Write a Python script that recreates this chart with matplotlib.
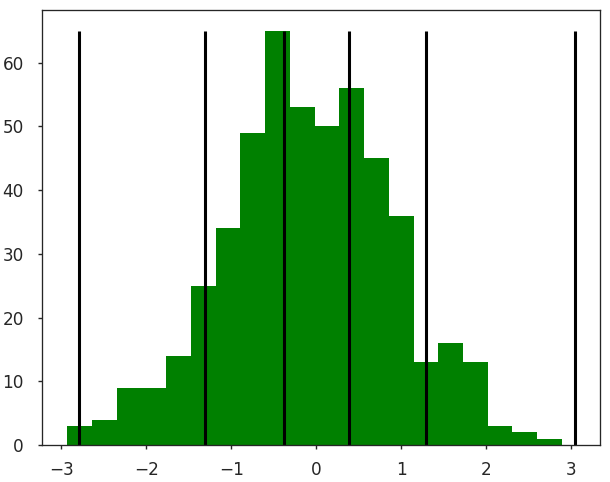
import numpy as np
import matplotlib
matplotlib.use("Agg")
import matplotlib.pyplot as plt

bin_start = -2.93
bin_end = 2.89
counts = [3, 4, 9, 9, 14, 25, 34, 49, 65, 53, 50, 56, 45, 36, 13, 16, 13, 3, 2, 1]
quantile_lines = [-2.79, -1.31, -0.38, 0.39, 1.29, 3.04]

edges = np.linspace(bin_start, bin_end, len(counts) + 1)

fig = plt.figure(figsize=(6.1, 4.82), dpi=100)
ax = fig.add_axes([42/610, 1 - 445/482, (600-42)/610, (445-10)/482])
ax.hist(edges[:-1], bins=edges, weights=counts, color="green")
ax.vlines(quantile_lines, 0, max(counts), colors="black", linewidth=2.2)

for s in ax.spines.values():
    s.set_color("#262626")
    s.set_linewidth(0.95)
ax.tick_params(axis="both", labelsize=12.2, length=2.6, width=1.0, color="#262626",
               labelcolor="#262626")
ax.tick_params(axis="x", pad=9.0)
ax.tick_params(axis="y", pad=10.5)
ax.set_xticks([-3, -2, -1, 0, 1, 2, 3])
ax.set_yticks([0, 10, 20, 30, 40, 50, 60])

fig.savefig("out.png", dpi=100)
